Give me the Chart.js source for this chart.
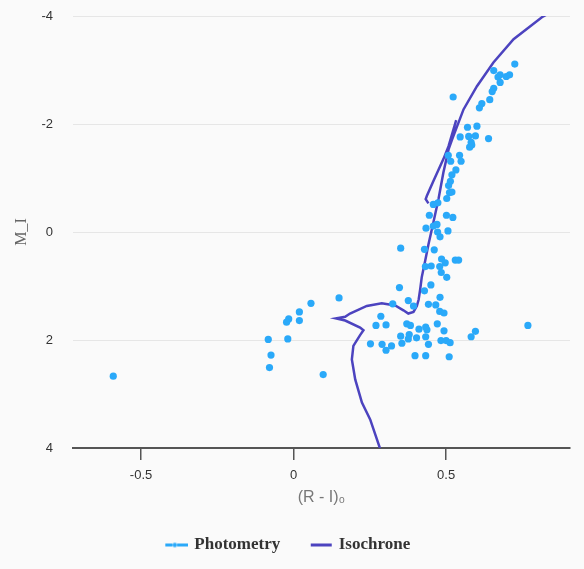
<!DOCTYPE html>
<html>
<head>
<meta charset="utf-8">
<script src="https://cdn.jsdelivr.net/npm/chart.js@4.4.1/dist/chart.umd.min.js"></script>
<style>
  html, body { margin: 0; padding: 0; background: #fafafa; }
  #wrap { width: 584px; height: 569px; position: relative; }
</style>
</head>
<body>
<div id="wrap"><canvas id="cmd"></canvas></div>
<script>
// photometry: (R - I)0 colour vs absolute mag M_I
const photX = [
  0.725, 0.656, 0.677, 0.670, 0.697, 0.708, 0.677, 0.656, 0.651, 0.523,
  0.643, 0.617, 0.609, 0.570, 0.601, 0.574, 0.596, 0.639, 0.546, 0.582,
  0.584, 0.577, 0.507, 0.544, 0.549, 0.515, 0.532, 0.519, 0.514, 0.508,
  0.519, 0.511, 0.502, 0.458, 0.473, 0.445, 0.501, 0.522, 0.434, 0.458,
  0.470, 0.472, 0.480, 0.506, 0.351, 0.429, 0.461, 0.485, 0.497, 0.530,
  0.541, 0.451, 0.479, 0.432, 0.484, 0.502, 0.347, 0.450, 0.429, 0.480,
  0.376, 0.393, 0.442, 0.466, 0.479, 0.493, 0.325, 0.286, 0.303, 0.270,
  0.371, 0.383, 0.471, 0.433, 0.437, 0.411, 0.493, 0.596, 0.582, 0.351,
  0.379, 0.376, 0.403, 0.433, 0.483, 0.500, 0.513, 0.252, 0.290, 0.321,
  0.355, 0.303, 0.442, 0.398, 0.433, 0.510, 0.768, 0.149, 0.057, 0.019,
  0.019, -0.016, -0.023, -0.019, -0.083, -0.074, -0.079, 0.097, -0.591
];
const photY = [
  -3.11, -2.99, -2.91, -2.87, -2.88, -2.91, -2.77, -2.66, -2.60, -2.50,
  -2.45, -2.38, -2.30, -1.94, -1.96, -1.77, -1.78, -1.73, -1.76, -1.66,
  -1.61, -1.57, -1.42, -1.42, -1.31, -1.31, -1.15, -1.06, -0.94, -0.86,
  -0.74, -0.73, -0.62, -0.51, -0.54, -0.31, -0.31, -0.27, -0.07, -0.11,
  -0.14, 0.00, 0.09, -0.02, 0.30, 0.32, 0.33, 0.50, 0.57, 0.52,
  0.52, 0.63, 0.64, 0.64, 0.75, 0.84, 1.03, 0.98, 1.09, 1.21,
  1.27, 1.37, 1.34, 1.35, 1.47, 1.50, 1.33, 1.56, 1.72, 1.73,
  1.70, 1.73, 1.70, 1.76, 1.81, 1.80, 1.83, 1.84, 1.94, 1.93,
  1.90, 1.98, 1.96, 1.94, 2.01, 2.01, 2.05, 2.07, 2.08, 2.11,
  2.06, 2.19, 2.08, 2.29, 2.29, 2.31, 1.73, 1.22, 1.32, 1.48,
  1.64, 1.61, 1.67, 1.98, 1.99, 2.28, 2.51, 2.64, 2.67
];

// isochrone track, null breaks it before the clump branch
const isoX = [
  0.290, 0.251, 0.224, 0.202, 0.191, 0.196, 0.218, 0.229, 0.218, 0.169,
  0.139, 0.169, 0.185, 0.240, 0.289, 0.333, 0.360, 0.376, 0.393, 0.404,
  0.410, 0.415, 0.420, 0.431, 0.442, 0.458, 0.475, 0.491, 0.508, 0.520,
  0.557, 0.601, 0.655, 0.721, 0.817, 0.861, null,
  0.533, 0.508, 0.491, 0.458, 0.437, 0.433, 0.442
];
const isoY = [
  4.12, 3.47, 3.16, 2.73, 2.36, 2.11, 1.91, 1.82, 1.77, 1.64,
  1.60, 1.57, 1.51, 1.37, 1.32, 1.36, 1.45, 1.51, 1.48, 1.37,
  1.25, 1.06, 0.84, 0.54, 0.23, -0.17, -0.61, -1.10, -1.53, -1.72,
  -2.27, -2.70, -3.14, -3.57, -3.99, -4.12, null,
  -2.07, -1.59, -1.35, -0.94, -0.67, -0.61, -0.53
];

const xTicks = [-0.5, 0, 0.5];
const yTicks = [-4, -2, 0, 2, 4];

const photColor = '#2aa9f9';
const isoColor = '#4c43bf';

Chart.defaults.font.family = "'Liberation Sans', Arial, sans-serif";

// small legend glyphs (45px wide, drawn centred on a 40px box)
function legendGlyph(kind) {
  const c = document.createElement('canvas');
  c.width = 45; c.height = 8;
  const g = c.getContext('2d');
  if (kind === 'dashdot') {
    g.fillStyle = photColor;
    g.fillRect(22, 3, 7, 3);
    g.fillRect(34, 3, 11, 3);
    g.beginPath();
    g.arc(31.5, 4.5, 2.3, 0, Math.PI * 2);
    g.fill();
  } else {
    g.fillStyle = isoColor;
    g.fillRect(23, 3, 21, 3);
  }
  return c;
}
const glyphs = [legendGlyph('dashdot'), legendGlyph('line')];

// nudge the legend a bit left of centre like the original
const legendShift = {
  id: 'legendShift',
  afterLayout(chart) {
    chart.legend.left -= 7;
    chart.legend.right -= 7;
  }
};

const ctx = document.getElementById('cmd').getContext('2d');
new Chart(ctx, {
  type: 'scatter',
  data: {
    datasets: [
      {
        label: 'Photometry',
        data: photX.map((x, i) => ({ x, y: photY[i] })),
        backgroundColor: photColor,
        borderColor: photColor,
        pointRadius: 3.6,
        pointBorderWidth: 0,
        pointHoverRadius: 4
      },
      {
        label: 'Isochrone',
        data: isoX.map((x, i) => ({ x, y: isoY[i] })),
        showLine: true,
        spanGaps: false,
        borderColor: isoColor,
        backgroundColor: isoColor,
        borderWidth: 2.5,
        pointRadius: 0,
        tension: 0
      }
    ]
  },
  plugins: [legendShift],
  options: {
    responsive: true,
    maintainAspectRatio: false,
    animation: false,
    layout: { padding: { top: 16, right: 14, left: 0, bottom: 6 } },
    plugins: {
      tooltip: { enabled: false },
      legend: {
        position: 'bottom',
        labels: {
          usePointStyle: true,
          pointStyleWidth: 40,
          padding: 10,
          color: '#333',
          font: { family: "'Liberation Serif', 'Times New Roman', serif", size: 17, weight: 'bold' },
          generateLabels: (chart) => chart.data.datasets.map((ds, i) => ({
            text: ds.label,
            pointStyle: glyphs[i],
            fillStyle: ds.borderColor,
            strokeStyle: ds.borderColor,
            lineWidth: 0,
            hidden: !chart.isDatasetVisible(i),
            datasetIndex: i,
            fontColor: '#333'
          }))
        }
      }
    },
    scales: {
      x: {
        type: 'linear',
        min: -0.723,
        max: 0.906,
        afterFit: (s) => { s.height = 78; },
        afterBuildTicks: (s) => { s.ticks = xTicks.map(v => ({ value: v })); },
        grid: {
          drawOnChartArea: false,
          drawTicks: true,
          tickLength: 12,
          color: '#555',
          lineWidth: 1.5
        },
        border: { display: true, color: '#555', width: 2 },
        ticks: { color: '#333', font: { size: 13 }, padding: 8, maxRotation: 0 },
        title: {
          display: true,
          text: '(R - I)\u2080',
          color: '#777',
          font: { size: 16 },
          padding: { top: 0, bottom: 19 }
        }
      },
      y: {
        type: 'linear',
        reverse: true,
        min: -4,
        max: 4,
        // fixed width; drop the label padding Chart.js adds above/below
        afterFit: (s) => { s.width = 73; s.paddingTop = 0; s.paddingBottom = 0; },
        afterBuildTicks: (s) => { s.ticks = yTicks.map(v => ({ value: v })); },
        grid: { color: '#e6e6e6', lineWidth: 1, drawTicks: false },
        border: { display: false },
        ticks: { color: '#333', font: { size: 13 }, padding: 20 },
        title: {
          display: true,
          text: 'M_I',
          color: '#666',
          font: { family: "'Liberation Serif', 'Times New Roman', serif", size: 16 },
          padding: { top: 12, bottom: 0 }
        }
      }
    }
  }
});
</script>
</body>
</html>
